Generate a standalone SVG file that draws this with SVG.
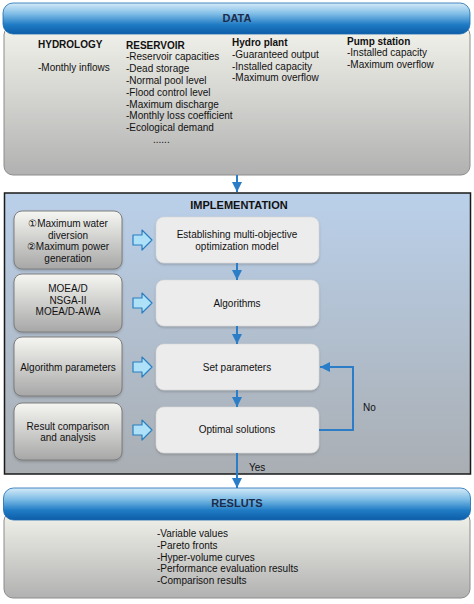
<svg xmlns="http://www.w3.org/2000/svg" width="474" height="604" viewBox="0 0 474 604">
<defs>
<linearGradient id="hdr" x1="0" y1="0" x2="0" y2="1">
<stop offset="0" stop-color="#d6ebf8"/>
<stop offset="0.35" stop-color="#7fbde6"/>
<stop offset="0.7" stop-color="#1f7bc4"/>
<stop offset="1" stop-color="#0e5da8"/>
</linearGradient>
<linearGradient id="body" x1="0" y1="0" x2="0" y2="1">
<stop offset="0" stop-color="#f3f3ec"/>
<stop offset="1" stop-color="#b1b1b1"/>
</linearGradient>
<linearGradient id="impl" x1="0" y1="0" x2="0" y2="1">
<stop offset="0" stop-color="#bad0ea"/>
<stop offset="1" stop-color="#a9aeb3"/>
</linearGradient>
<linearGradient id="lbox" x1="0" y1="0" x2="0" y2="1">
<stop offset="0" stop-color="#f6f6f2"/>
<stop offset="1" stop-color="#a7a7a7"/>
</linearGradient>
<marker id="ah" viewBox="0 0 10 10" refX="10" refY="5" markerWidth="10" markerHeight="10" markerUnits="userSpaceOnUse" orient="auto">
<path d="M0,0 L10,5 L0,10 Z" fill="#2a7dc6"/>
</marker>
<filter id="sh" x="-10%" y="-10%" width="120%" height="130%">
<feDropShadow dx="0" dy="1.5" stdDeviation="1" flood-color="#555" flood-opacity="0.35"/>
</filter>
</defs>
<style>
text{font-family:"Liberation Sans",Arial,sans-serif;font-size:10px;fill:#111;}
.b{font-weight:bold;}
.h{font-weight:bold;font-size:11px;fill:#1c2b4a;text-anchor:middle;}
.c{text-anchor:middle;}
.hbar{fill:url(#hdr);stroke:#1a6ab0;stroke-width:0.8;}
.bodyb{fill:url(#body);stroke:#8c8c8c;stroke-width:1;}
.lb{fill:url(#lbox);stroke:#7e7e7e;stroke-width:1;filter:url(#sh);}
.mb{fill:#ececec;stroke:#d8d8d8;stroke-width:0.6;filter:url(#sh);}
.ha{fill:#aee0f8;stroke:#2a7fc0;stroke-width:1.2;stroke-linejoin:round;}
.con{stroke:#2a7dc6;stroke-width:2;fill:none;}
</style>

<g id="data">
<rect class="bodyb" x="4" y="26" width="466" height="149" rx="9"/>
<rect class="hbar" x="3" y="3" width="467" height="31" rx="10"/>
<text class="h" x="237" y="22">DATA</text>
<text class="b" x="38" y="48">HYDROLOGY</text>
<text x="38" y="71">-Monthly inflows</text>
<text class="b" x="126" y="49">RESERVOIR</text>
<text x="126" y="60">-Reservoir capacities</text>
<text x="126" y="72">-Dead storage</text>
<text x="126" y="84">-Normal pool level</text>
<text x="126" y="95.5">-Flood control level</text>
<text x="126" y="107.5">-Maximum discharge</text>
<text x="126" y="119">-Monthly loss coefficient</text>
<text x="126" y="131">-Ecological demand</text>
<text x="153" y="143">......</text>
<text class="b" x="232" y="46">Hydro plant</text>
<text x="232" y="57.5">-Guaranteed output</text>
<text x="232" y="69.5">-Installed capacity</text>
<text x="232" y="81">-Maximum overflow</text>
<text class="b" x="347" y="44.5">Pump station</text>
<text x="347" y="56">-Installed capacity</text>
<text x="347" y="67.5">-Maximum overflow</text>
</g>

<g id="implementation">
<rect x="4.5" y="193" width="466" height="281" fill="url(#impl)" stroke="#1a1a1a" stroke-width="1.5"/>
<text class="b c" x="239" y="209" style="font-size:11px">IMPLEMENTATION</text>
</g>

<g id="objectives">
<rect class="lb" x="14" y="211" width="108" height="58" rx="8"/>
<text class="c" x="68" y="227">①Maximum water</text>
<text class="c" x="68" y="238.5">diversion</text>
<text class="c" x="68" y="250">②Maximum power</text>
<text class="c" x="68" y="262">generation</text>
</g>
<g id="algolist">
<rect class="lb" x="14" y="274" width="108" height="58" rx="8"/>
<text class="c" x="68" y="291.5">MOEA/D</text>
<text class="c" x="68" y="303.5">NSGA-II</text>
<text class="c" x="68" y="315">MOEA/D-AWA</text>
</g>
<g id="algparams">
<rect class="lb" x="14" y="337" width="108" height="59" rx="8"/>
<text class="c" x="68" y="370.5">Algorithm parameters</text>
</g>
<g id="comparison">
<rect class="lb" x="14" y="403" width="108" height="57" rx="8"/>
<text class="c" x="68" y="429.5">Result comparison</text>
<text class="c" x="68" y="441">and analysis</text>
</g>

<g id="model">
<rect class="mb" x="156" y="217" width="163" height="46" rx="8"/>
<text class="c" x="237" y="237.5">Establishing multi-objective</text>
<text class="c" x="237" y="249.5">optimization model</text>
</g>
<g id="algorithms">
<rect class="mb" x="156" y="280" width="163" height="46" rx="8"/>
<text class="c" x="237" y="306.5">Algorithms</text>
</g>
<g id="setparams">
<rect class="mb" x="156" y="344" width="163" height="46" rx="8"/>
<text class="c" x="237" y="370.5">Set parameters</text>
</g>
<g id="optimal">
<rect class="mb" x="156" y="407" width="163" height="46" rx="8"/>
<text class="c" x="237" y="432.5">Optimal solutions</text>
</g>

<g id="results">
<rect class="bodyb" x="4" y="512" width="466" height="86" rx="9"/>
<rect class="hbar" x="3.5" y="488" width="467" height="32" rx="10"/>
<text class="h" x="237" y="507">RESLUTS</text>
<text x="157" y="536.5">-Variable values</text>
<text x="157" y="548.5">-Pareto fronts</text>
<text x="157" y="560.5">-Hyper-volume curves</text>
<text x="157" y="572">-Performance evaluation results</text>
<text x="157" y="584">-Comparison results</text>
</g>

<g id="connectors">
<path class="ha" d="M133,235 H142 V230 L152,240 L142,250 V245 H133 Z"/>
<path class="ha" d="M133,298 H142 V293 L152,303 L142,313 V308 H133 Z"/>
<path class="ha" d="M133,362 H142 V357 L152,367 L142,377 V372 H133 Z"/>
<path class="ha" d="M133,425 H142 V420 L152,430 L142,440 V435 H133 Z"/>
<line class="con" x1="237" y1="175" x2="237" y2="192" marker-end="url(#ah)"/>
<line class="con" x1="237" y1="263" x2="237" y2="280" marker-end="url(#ah)"/>
<line class="con" x1="237" y1="326" x2="237" y2="344" marker-end="url(#ah)"/>
<line class="con" x1="237" y1="390" x2="237" y2="407" marker-end="url(#ah)"/>
<path class="con" d="M319,430 H353 V367 H320" marker-end="url(#ah)"/>
<line class="con" x1="237" y1="453" x2="237" y2="488" marker-end="url(#ah)"/>
<text x="363" y="411">No</text>
<text x="249" y="471">Yes</text>
</g>
</svg>
